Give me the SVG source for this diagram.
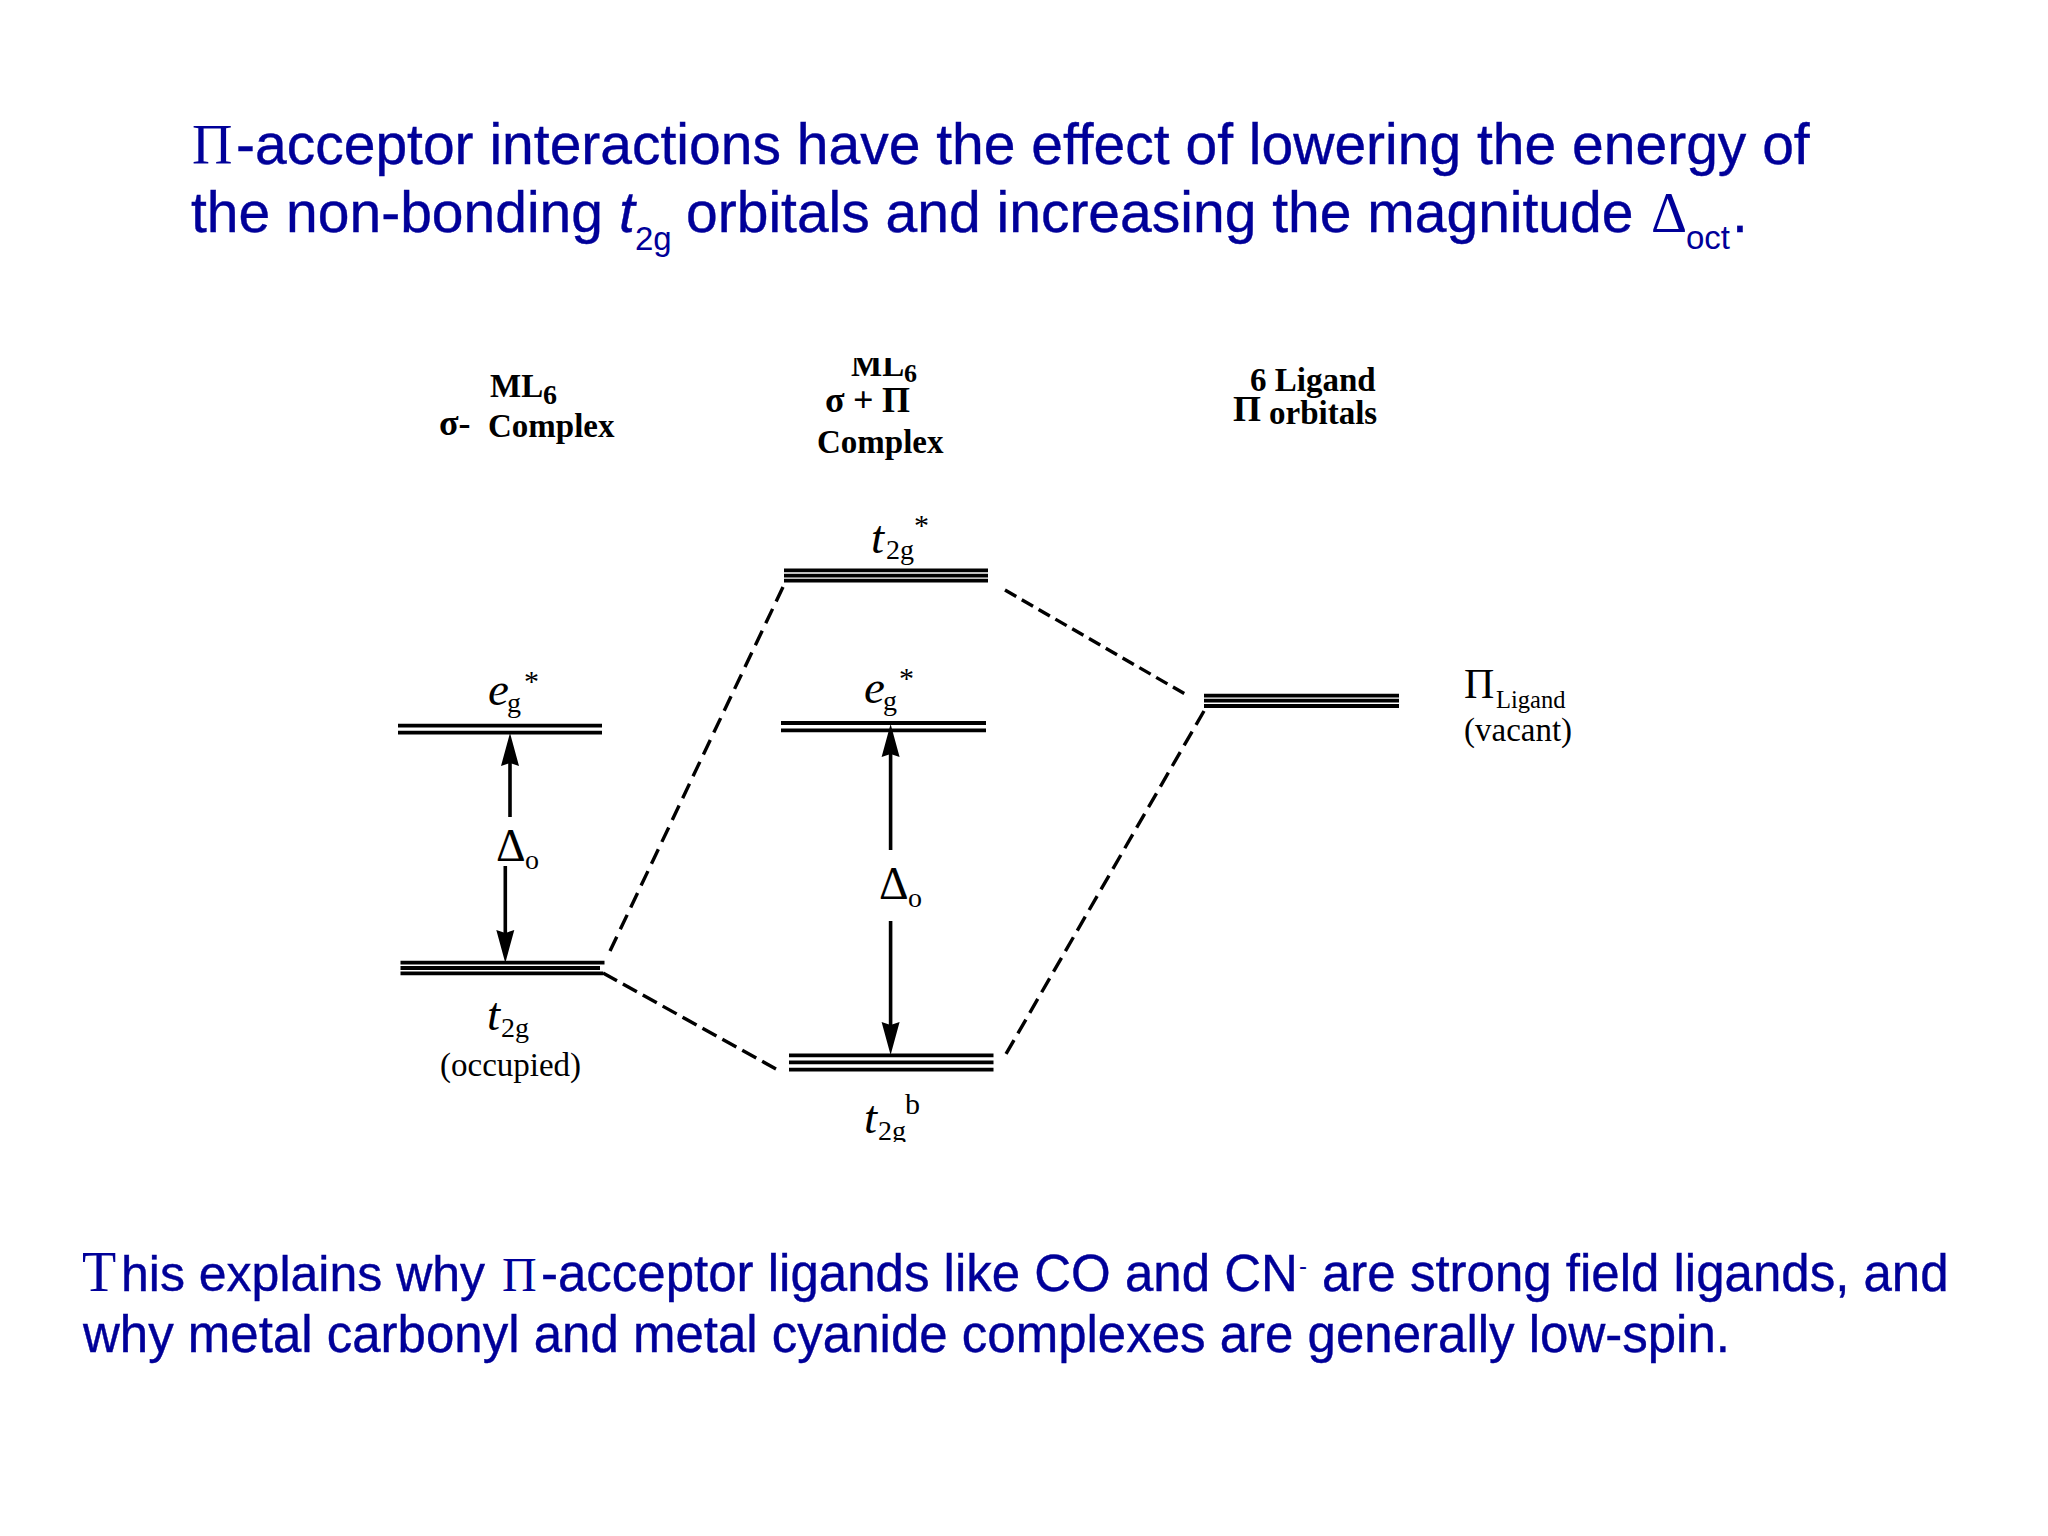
<svg xmlns="http://www.w3.org/2000/svg" width="2048" height="1536" viewBox="0 0 2048 1536">
<style>
.h{font-family:"Liberation Sans",Arial,sans-serif;font-size:57px;fill:#000099;stroke:#000099;stroke-width:.4}
.f{font-family:"Liberation Sans",Arial,sans-serif;font-size:51px;fill:#000099;stroke:#000099;stroke-width:.4}
.hs{font-family:"Liberation Sans",Arial,sans-serif;font-size:33px;fill:#000099}
.hg{font-family:"Liberation Serif","Times New Roman",serif;font-size:56px;fill:#000099}
.fg{font-family:"Liberation Serif","Times New Roman",serif;font-size:48px;fill:#000099}
.hi{font-style:italic}
.b{font-family:"Liberation Serif","Times New Roman",serif;font-weight:bold;font-size:33px;fill:#000}
.r{font-family:"Liberation Serif","Times New Roman",serif;font-size:33px;fill:#000}
.i{font-family:"Liberation Serif","Times New Roman",serif;font-style:italic;font-size:47px;fill:#000}
.s{font-family:"Liberation Serif","Times New Roman",serif;font-size:28px;fill:#000}
.u{font-size:30px}
.lv{stroke:#000;stroke-width:3.8;fill:none}
.d{stroke:#000;stroke-width:3.4;fill:none}
.a{stroke:#000;stroke-width:3.6;fill:none}
</style>
<defs>
<clipPath id="cg"><rect x="850" y="1090" width="90" height="52"/></clipPath>
<clipPath id="cm"><rect x="840" y="358" width="90" height="40"/></clipPath>
<polygon id="up" points="0,0 -9,33 0,30 9,33" fill="#000"/>
</defs>
<rect width="2048" height="1536" fill="#fff"/>
<g id="heading">
<text class="hg" x="192" y="164">Π</text>
<text class="h" x="236" y="164">-acceptor interactions have the effect of lowering the energy of</text>
<text class="h" x="191" y="232">the non-bonding <tspan class="hi">t</tspan></text>
<text class="hs" x="635" y="250">2g</text>
<text class="h" x="686" y="232">orbitals and increasing the magnitude</text>
<text class="hg" x="1651" y="232">Δ</text>
<text class="hs" x="1686" y="249">oct</text>
<text class="h" x="1732" y="232">.</text>
</g>
<g id="footer">
<text class="hg" x="82" y="1291">T</text>
<text class="f" x="121" y="1291" style="font-size:50px">his explains why</text>
<text class="fg" x="502" y="1291">Π</text>
<text class="f" x="541" y="1291">-acceptor ligands like CO and CN</text>
<text class="hs" x="1299" y="1274" style="font-size:24px">-</text>
<text class="f" x="1322" y="1291">are strong field ligands, and</text>
<text class="f" x="83" y="1352">why metal carbonyl and metal cyanide complexes are generally low-spin.</text>
</g>
<g id="connectors">
<line class="d" stroke-dasharray="16 8.2" x1="783" y1="587" x2="610" y2="951"/>
<line class="d" stroke-dasharray="16 6.75" x1="603" y1="973" x2="776" y2="1069"/>
<line class="d" stroke-dasharray="13 6.4" x1="1005" y1="590" x2="1185" y2="694"/>
<line class="d" stroke-dasharray="16 7.75" x1="1204" y1="711" x2="1006" y2="1054"/>
<line class="a" x1="510" y1="760" x2="510" y2="817"/>
<use href="#up" x="510" y="733"/>
<line class="a" x1="505.3" y1="866" x2="505.3" y2="935"/>
<use href="#up" transform="translate(505.3 963) rotate(180)"/>
<line class="a" x1="890.6" y1="752" x2="890.6" y2="850"/>
<use href="#up" x="890.6" y="724"/>
<line class="a" x1="890.6" y1="921" x2="890.6" y2="1027"/>
<use href="#up" transform="translate(890.6 1055) rotate(180)"/>
</g>
<g id="col1-eg">
<path class="lv" d="M398 725.7H602M398 732.7H602"/>
<text class="i" x="488" y="705">e</text><text class="s" x="507" y="712">g</text><text class="s u" x="524" y="691">*</text>
</g>
<g id="col1-t2g">
<path class="lv" d="M400.5 962.7H604.5M400.5 968H600M400.5 973.3H603"/>
<text class="i" x="487" y="1030">t</text><text class="s" x="501" y="1037">2g</text>
<text class="r" x="440" y="1076">(occupied)</text>
</g>
<g id="col1-title">
<text class="b" x="490" y="397">ML</text><text class="b" x="543" y="404" style="font-size:28px">6</text>
<text class="b" x="439" y="435" style="font-size:36px">σ-</text><text class="b" x="488" y="437">Complex</text>
</g>
<g id="delta1"><text class="r" x="496" y="861" style="font-size:46px">Δ</text><text class="s" x="525" y="869">o</text></g>
<g id="col2-t2gstar">
<path class="lv" d="M784 570.3H988M784 575.7H988M784 580.7H988"/>
<text class="i" x="871" y="553">t</text><text class="s" x="886" y="559">2g</text><text class="s u" x="914" y="535">*</text>
</g>
<g id="col2-eg">
<path class="lv" d="M781 723H986M781 730.3H986"/>
<text class="i" x="864" y="703">e</text><text class="s" x="883" y="710">g</text><text class="s u" x="899" y="688">*</text>
</g>
<g id="col2-t2gb">
<path class="lv" d="M789 1055.3H993.5M789 1062.3H993.5M789 1069.7H993.5"/>
<text class="i" x="864" y="1133">t</text><text class="s" x="878" y="1140" clip-path="url(#cg)">2g</text><text class="s u" x="905" y="1114">b</text>
</g>
<g id="delta2"><text class="r" x="879" y="899" style="font-size:46px">Δ</text><text class="s" x="908" y="907">o</text></g>
<g id="col2-title">
<g clip-path="url(#cm)"><text class="b" x="851" y="376">ML</text><text class="b" x="904" y="382" style="font-size:26px">6</text></g>
<text class="b" x="825" y="412" style="font-size:36px">σ</text><text class="b" x="853" y="412" style="font-size:36px">+</text><text class="b" x="882" y="412" style="font-size:36px">Π</text>
<text class="b" x="817" y="453">Complex</text>
</g>
<g id="col3-level">
<path class="lv" d="M1204 695.7H1399M1204 700.7H1399M1204 706H1399"/>
<text class="r" x="1464" y="698" style="font-size:42px">Π</text><text class="s" x="1496" y="708" style="font-size:24.5px">Ligand</text>
<text class="r" x="1464" y="741">(vacant)</text>
</g>
<g id="col3-title">
<text class="b" x="1250" y="391">6 Ligand</text>
<text class="b" x="1233" y="421" style="font-size:36px">Π</text><text class="b" x="1269" y="424">orbitals</text>
</g>
</svg>
